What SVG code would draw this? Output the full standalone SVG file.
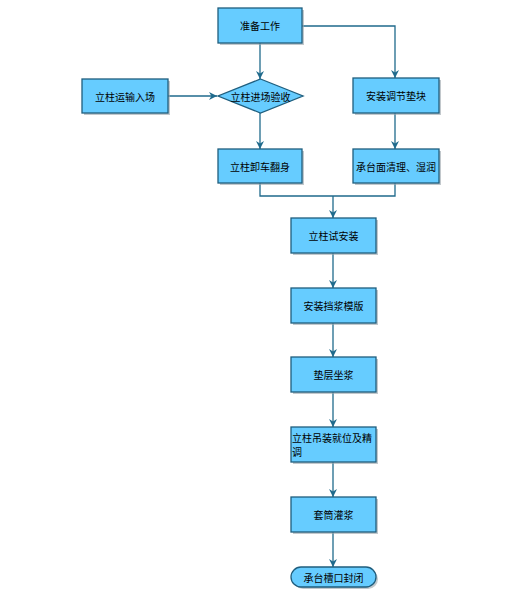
<svg xmlns="http://www.w3.org/2000/svg" width="527" height="602" viewBox="0 0 527 602">
<style>
.n{fill:#66CCFF;stroke:#1F5E7E;stroke-width:1.3}
.sh{fill:#9AA4AA;opacity:0.6}
.t{font-family:"Noto Sans CJK SC","Liberation Sans",sans-serif;font-size:10px;fill:#000;text-anchor:middle;dominant-baseline:central}
.c{fill:none;stroke:#1F6A8C;stroke-width:1.3}
</style>
<defs>
<marker id="a" viewBox="0 0 10 10" refX="10" refY="5" markerWidth="8" markerHeight="8" markerUnits="userSpaceOnUse" orient="auto">
<path d="M0,0 L10,5 L0,10 L3,5 Z" fill="#1F6A8C"/>
</marker>
</defs>
<rect width="527" height="602" fill="#fff"/>
<g id="connectors">
<path class="c" d="M260,43 V79" marker-end="url(#a)"/>
<path class="c" d="M302,26 H395 V78" marker-end="url(#a)"/>
<path class="c" d="M168,96 H217" marker-end="url(#a)"/>
<path class="c" d="M260,113 V149" marker-end="url(#a)"/>
<path class="c" d="M395,113 V149" marker-end="url(#a)"/>
<path class="c" d="M260,183 V196 H395 V183"/>
<path class="c" d="M333,196 V218" marker-end="url(#a)"/>
<path class="c" d="M333,253 V288" marker-end="url(#a)"/>
<path class="c" d="M333,323 V357" marker-end="url(#a)"/>
<path class="c" d="M333,392 V427" marker-end="url(#a)"/>
<path class="c" d="M333,462 V497" marker-end="url(#a)"/>
<path class="c" d="M333,532 V567" marker-end="url(#a)"/>
</g>
<g id="n1"><rect class="sh" x="220" y="10" width="84" height="35"/><rect class="n" x="218" y="8" width="84" height="35"/><text class="t" x="260" y="25.5">准备工作</text></g>
<g id="n2"><rect class="sh" x="84" y="81" width="86" height="34"/><rect class="n" x="82" y="79" width="86" height="34"/><text class="t" x="125" y="96">立柱运输入场</text></g>
<g id="n3"><polygon class="n" points="260.5,79 303,96 260.5,113 218,96"/><text class="t" x="260.5" y="96">立柱进场验收</text></g>
<g id="n4"><rect class="sh" x="355" y="80" width="86" height="35"/><rect class="n" x="353" y="78" width="86" height="35"/><text class="t" x="396" y="95.5">安装调节垫块</text></g>
<g id="n5"><rect class="sh" x="220" y="151" width="84" height="34"/><rect class="n" x="218" y="149" width="84" height="34"/><text class="t" x="260" y="166">立柱卸车翻身</text></g>
<g id="n6"><rect class="sh" x="355" y="151" width="86" height="34"/><rect class="n" x="353" y="149" width="86" height="34"/><text class="t" x="396" y="166">承台面清理、湿润</text></g>
<g id="n7"><rect class="sh" x="293" y="220" width="85" height="35"/><rect class="n" x="291" y="218" width="85" height="35"/><text class="t" x="333.5" y="235.5">立柱试安装</text></g>
<g id="n8"><rect class="sh" x="293" y="290" width="85" height="35"/><rect class="n" x="291" y="288" width="85" height="35"/><text class="t" x="333.5" y="305.5">安装挡浆模版</text></g>
<g id="n9"><rect class="sh" x="293" y="359" width="85" height="35"/><rect class="n" x="291" y="357" width="85" height="35"/><text class="t" x="333.5" y="374.5">垫层坐浆</text></g>
<g id="n10"><rect class="sh" x="293" y="429" width="85" height="35"/><rect class="n" x="291" y="427" width="85" height="35"/><text class="t" x="292" y="437.5" style="text-anchor:start">立柱吊装就位及精</text><text class="t" x="292" y="451.5" style="text-anchor:start">调</text></g>
<g id="n11"><rect class="sh" x="293" y="499" width="85" height="35"/><rect class="n" x="291" y="497" width="85" height="35"/><text class="t" x="333.5" y="514.5">套筒灌浆</text></g>
<g id="n12"><rect class="sh" x="293" y="569" width="85" height="20" rx="10"/><rect class="n" x="291" y="567" width="85" height="20" rx="10"/><text class="t" x="333.5" y="577">承台槽口封闭</text></g>
</svg>
